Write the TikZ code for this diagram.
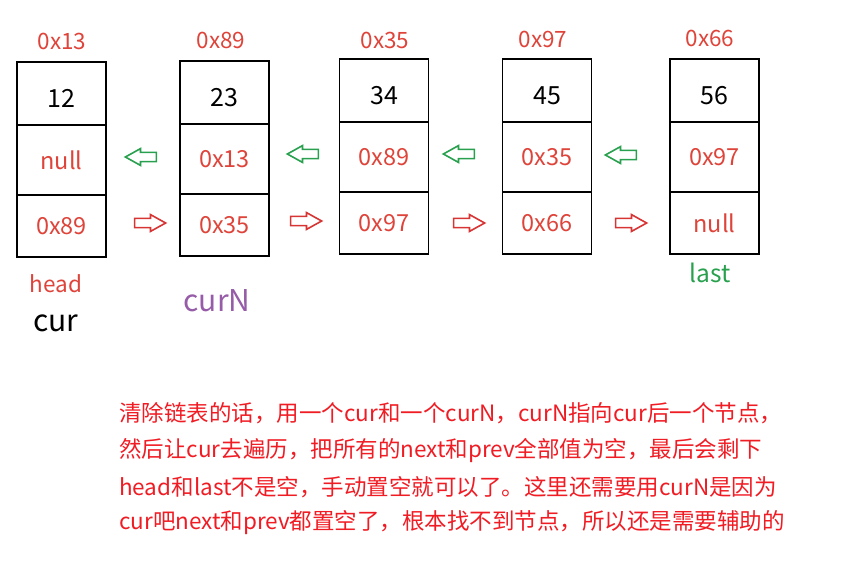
\documentclass[tikz,border=0pt]{standalone}
\usepackage{fontspec}
\newfontfamily\cjk{Noto Sans CJK SC}
\definecolor{addrred}{RGB}{222,68,58}
\definecolor{notered}{RGB}{240,28,36}
\definecolor{prevgreen}{RGB}{40,160,78}
\definecolor{nextred}{RGB}{215,52,52}
\definecolor{curnpurple}{RGB}{150,92,168}
\usepackage{tikz}
\usetikzlibrary{positioning,shapes.arrows}

\tikzset{
  cell/.style={draw, line width=1.6pt, minimum width=89pt, inner sep=0pt, outer sep=0pt,
    text=addrred, font=\cjk\fontsize{23.5}{23.5}\selectfont},
  valcell/.style={cell, minimum height=63pt, anchor=north, text=black,
    font=\cjk\fontsize{25}{25}\selectfont, text height=27pt, text depth=0pt},
  prevcell/.style={cell, minimum height=70pt},
  nextcell/.style={cell, minimum height=62pt},
  addr/.style={text=addrred, font=\cjk\fontsize{22.5}{22.5}\selectfont},
  linkarrow/.style={single arrow, line width=1.6pt, minimum height=31pt, inner sep=3.8pt,
    single arrow head extend=3.8pt, single arrow tip angle=58},
  prevarrow/.style={linkarrow, draw=prevgreen, shape border rotate=180},
  nextarrow/.style={linkarrow, draw=nextred},
  note/.style={anchor=west, text=notered, inner sep=0pt, font=\cjk\fontsize{22.5}{22.5}\selectfont}
}

\begin{document}
\begin{tikzpicture}[x=1pt,y=-1pt]
\useasboundingbox (0,0) rectangle (853,570);

% the five nodes of the list
\node[valcell] (n1v) at (61.5,62) {12};
\node[prevcell, below=0pt of n1v] (n1p) {null};
\node[nextcell, below=0pt of n1p] (n1n) {0x89};

\node[valcell] (n2v) at (224.5,61) {23};
\node[prevcell, below=0pt of n2v] (n2p) {0x13};
\node[nextcell, below=0pt of n2p] (n2n) {0x35};

\node[valcell] (n3v) at (384,59) {34};
\node[prevcell, below=0pt of n3v] (n3p) {0x89};
\node[nextcell, below=0pt of n3p] (n3n) {0x97};

\node[valcell] (n4v) at (547,59) {45};
\node[prevcell, below=0pt of n4v] (n4p) {0x35};
\node[nextcell, below=0pt of n4p] (n4n) {0x66};

\node[valcell] (n5v) at (714.5,59) {56};
\node[prevcell, below=0pt of n5v] (n5p) {0x97};
\node[nextcell, below=0pt of n5p] (n5n) {null};

% addresses
\node[addr] (a1) at (62,41) {0x13};
\node[addr] (a2) at (221,40) {0x89};
\node[addr] (a3) at (385,40) {0x35};
\node[addr] (a4) at (543,39) {0x97};
\node[addr] (a5) at (710,38) {0x66};

% prev / next arrows
\node[prevarrow] (p12) at (145,157) {};
\node[prevarrow] (p23) at (307,154) {};
\node[prevarrow] (p34) at (463,154) {};
\node[prevarrow] (p45) at (625,155) {};
\node[nextarrow] (r12) at (146,223) {};
\node[nextarrow] (r23) at (302,221) {};
\node[nextarrow] (r34) at (465,223) {};
\node[nextarrow] (r45) at (627,223) {};

% pointers
\node[text=addrred, font=\cjk\fontsize{22.5}{22.5}\selectfont] (headlbl) at (56,284) {head};
\node[font=\cjk\fontsize{30}{30}\selectfont] (curlbl) at (56,323) {cur};
\node[text=curnpurple, font=\cjk\fontsize{30}{30}\selectfont] (curnlbl) at (217,301) {curN};
\node[text=prevgreen, font=\cjk\fontsize{24.5}{24.5}\selectfont] (lastlbl) at (710,273) {last};

% explanation
\node[note] (note1) at (119,413) {清除链表的话，用一个cur和一个curN，curN指向cur后一个节点，};
\node[note] (note2) at (119,450) {然后让cur去遍历，把所有的next和prev全部值为空，最后会剩下};
\node[note] (note3) at (119,487) {head和last不是空，手动置空就可以了。这里还需要用curN是因为};
\node[note] (note4) at (119,523) {cur吧next和prev都置空了，根本找不到节点，所以还是需要辅助的};
\end{tikzpicture}
\end{document}
